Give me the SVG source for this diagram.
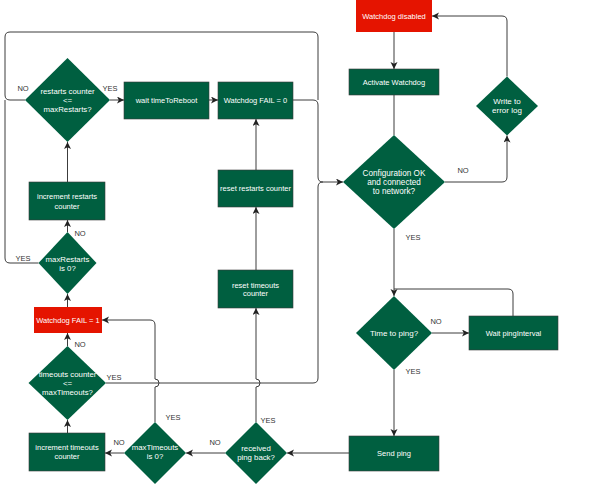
<svg xmlns="http://www.w3.org/2000/svg" width="600" height="484" viewBox="0 0 600 484">
<defs>
<style>
.g{fill:#005f40;stroke:#3a3a3a;stroke-width:0.6}
.d{fill:#005f40;stroke:none}
.r{fill:#e51400;stroke:none}
.t{font-family:"Liberation Sans",Arial,sans-serif;font-size:7.5px;fill:#ffffff;text-anchor:middle;dominant-baseline:central}
.td{font-family:"Liberation Sans",Arial,sans-serif;font-size:7.8px;fill:#ffffff;text-anchor:middle;dominant-baseline:central}
.l{font-family:"Liberation Sans",Arial,sans-serif;font-size:7.5px;fill:#333333;text-anchor:middle;dominant-baseline:central}
.c{fill:none;stroke:#3c3c3c;stroke-width:1}
</style>
<marker id="a" markerUnits="userSpaceOnUse" markerWidth="8" markerHeight="8" refX="7" refY="3.5" orient="auto">
<path d="M0,0 L7,3.5 L0,7 L1.8,3.5 z" fill="#222"/>
</marker>
</defs>
<rect width="600" height="484" fill="#ffffff"/>

<g id="connectors">
<path class="c" d="M394,32 V69" marker-end="url(#a)"/>
<path class="c" d="M394,95 V135"/>
<path class="c" d="M445,182 H502 Q507,182 507,177 V135.5" marker-end="url(#a)"/>
<path class="c" d="M507,76.5 V21 Q507,16 502,16 H432" marker-end="url(#a)"/>
<path class="c" d="M394,229 V296" marker-end="url(#a)"/>
<path class="c" d="M432,333 H469" marker-end="url(#a)"/>
<path class="c" d="M513,316 V294 Q513,289 508,289 H394"/>
<path class="c" d="M394,370 V436" marker-end="url(#a)"/>
<path class="c" d="M349,453 H287" marker-end="url(#a)"/>
<path class="c" d="M225,453 H186" marker-end="url(#a)"/>
<path class="c" d="M256,422 V387 A4,4 0 0 0 256,379 V308" marker-end="url(#a)"/>
<path class="c" d="M256,270 V207" marker-end="url(#a)"/>
<path class="c" d="M256,170 V119" marker-end="url(#a)"/>
<path class="c" d="M293,100 H313 Q318,100 318,105 V177 Q318,182 323,182 H343" marker-end="url(#a)"/>
<path class="c" d="M25,100 H10 Q5,100 5,95 V37 Q5,32 10,32 H313 Q318,32 318,37 V100"/>
<path class="c" d="M110,100 H124" marker-end="url(#a)"/>
<path class="c" d="M209,100 H218" marker-end="url(#a)"/>
<path class="c" d="M67.5,182 V142" marker-end="url(#a)"/>
<path class="c" d="M67.5,232 V220" marker-end="url(#a)"/>
<path class="c" d="M38.5,263 H10 Q5,263 5,258 V100"/>
<path class="c" d="M67.5,307 V294" marker-end="url(#a)"/>
<path class="c" d="M67.5,346 V333" marker-end="url(#a)"/>
<path class="c" d="M106,383 H313 Q318,383 318,378 V187 Q318,182 323,182"/>
<path class="c" d="M67.5,433 V420" marker-end="url(#a)"/>
<path class="c" d="M124,453 H105" marker-end="url(#a)"/>
<path class="c" d="M155,422 V387 A4,4 0 0 0 155,379 V325 Q155,320 150,320 H102" marker-end="url(#a)"/>
<text class="l" x="463" y="170">NO</text>
<text class="l" x="413" y="237">YES</text>
<text class="l" x="436" y="321">NO</text>
<text class="l" x="413" y="371">YES</text>
<text class="l" x="215" y="442">NO</text>
<text class="l" x="268" y="420">YES</text>
<text class="l" x="119" y="442">NO</text>
<text class="l" x="173" y="417">YES</text>
<text class="l" x="114" y="377">YES</text>
<text class="l" x="80" y="344">NO</text>
<text class="l" x="23" y="258">YES</text>
<text class="l" x="80" y="233">NO</text>
<text class="l" x="23" y="88">NO</text>
<text class="l" x="110" y="88">YES</text>
</g>

<g id="wd_disabled"><rect class="r" x="356" y="0" width="76" height="32"/><text class="t" x="394" y="16">Watchdog disabled</text></g>
<g id="activate"><rect class="g" x="349" y="69" width="90" height="26"/><text class="t" x="394" y="82">Activate Watchdog</text></g>
<g id="config"><polygon class="d" points="394,135 445,182 394,229 343,182"/>
<text class="td" style="font-size:8.2px" x="394" y="173">Configuration OK</text>
<text class="td" style="font-size:8.2px" x="394" y="182.3">and connected</text>
<text class="td" style="font-size:8.2px" x="394" y="191.6">to network?</text></g>
<g id="write_log"><polygon class="d" points="507,76.5 538,106 507,135.5 476,106"/>
<text class="td" style="font-size:8px" x="507" y="101">Write to</text>
<text class="td" style="font-size:8px" x="507" y="110.7">error log</text></g>
<g id="time_to_ping"><polygon class="d" points="394,296 432,333 394,370 356,333"/><text class="td" style="font-size:8px" x="394" y="333">Time to ping?</text></g>
<g id="wait_ping"><rect class="g" x="469" y="316" width="89" height="34"/><text class="t" x="513.5" y="333">Wait pingInterval</text></g>
<g id="send_ping"><rect class="g" x="349" y="436" width="90" height="35"/><text class="t" x="394" y="453.5">Send ping</text></g>
<g id="received"><polygon class="d" points="256,422 287,453 256,484 225,453"/>
<text class="td" x="256" y="448.3">received</text>
<text class="td" x="256" y="457.3">ping back?</text></g>
<g id="max_timeouts"><polygon class="d" points="155,422 186,453 155,484 124,453"/>
<text class="td" x="155" y="447.7">maxTimeouts</text>
<text class="td" x="155" y="456.7">is 0?</text></g>
<g id="inc_timeouts"><rect class="g" x="29" y="433" width="76" height="38"/>
<text class="t" x="67" y="447.7">increment timeouts</text>
<text class="t" x="67" y="456.7">counter</text></g>
<g id="timeouts"><polygon class="d" points="67.5,346 106,383 67.5,420 28.5,383"/>
<text class="td" x="67.5" y="374">timeouts counter</text>
<text class="td" x="67.5" y="383">&lt;=</text>
<text class="td" x="67.5" y="392">maxTimeouts?</text></g>
<g id="fail1"><rect class="r" x="34" y="307" width="68" height="26"/><text class="t" x="68" y="320">Watchdog FAIL = 1</text></g>
<g id="max_restarts"><polygon class="d" points="67.5,232 96.5,263 67.5,294 38.5,263"/>
<text class="td" x="67.5" y="259.3">maxRestarts</text>
<text class="td" x="67.5" y="268.3">is 0?</text></g>
<g id="inc_restarts"><rect class="g" x="29" y="182" width="76" height="38"/>
<text class="t" x="67" y="196.7">increment restarts</text>
<text class="t" x="67" y="206">counter</text></g>
<g id="restarts"><polygon class="d" points="67.5,58 110,100 67.5,142 25,100"/>
<text class="td" x="67.5" y="91.7">restarts counter</text>
<text class="td" x="67.5" y="100">&lt;=</text>
<text class="td" x="67.5" y="109">maxRestarts?</text></g>
<g id="wait_reboot"><rect class="g" x="124" y="82" width="85" height="37"/><text class="t" x="166.5" y="100.5">wait timeToReboot</text></g>
<g id="fail0"><rect class="g" x="218" y="82" width="75" height="37"/><text class="t" x="255.5" y="100.5">Watchdog FAIL = 0</text></g>
<g id="reset_restarts"><rect class="g" x="218" y="170" width="75" height="37"/><text class="t" x="255.5" y="188.5">reset restarts counter</text></g>
<g id="reset_timeouts"><rect class="g" x="218" y="270" width="75" height="38"/>
<text class="t" x="255.5" y="285">reset timeouts</text>
<text class="t" x="255.5" y="293.7">counter</text></g>
</svg>
